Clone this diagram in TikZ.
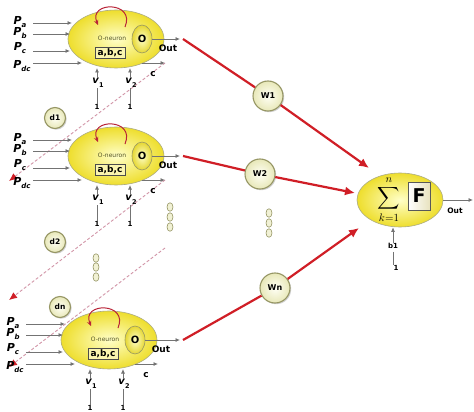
\documentclass[tikz,border=0pt]{standalone}
\usepackage[no-math]{fontspec}
\setmainfont{DejaVu Sans}
\usepackage{graphicx}
\usetikzlibrary{arrows.meta,shapes.geometric,shadows,backgrounds}
\definecolor{redl}{RGB}{208,30,38}
\definecolor{loopred}{RGB}{185,35,55}
\definecolor{pinkd}{RGB}{210,150,168}
\definecolor{grayar}{RGB}{115,115,115}
\definecolor{olive}{RGB}{150,150,100}
\definecolor{yin}{RGB}{255,255,200}
\definecolor{yout}{RGB}{238,222,45}
\definecolor{cin}{RGB}{255,255,245}
\definecolor{cout}{RGB}{232,232,185}
\definecolor{txtol}{RGB}{85,85,40}
\definecolor{boxfill}{RGB}{250,245,175}
\definecolor{fboxc}{RGB}{232,226,190}

\newcommand\PLab[1]{\textit{P}\raisebox{-3pt}{\fontsize{7}{8}\selectfont\textit{#1}}}
\newcommand\VLab[1]{\textit{v}\raisebox{-3.5pt}{\fontsize{6.5}{7}\selectfont #1}}

\tikzset{
 neuron/.style={ellipse, draw=olive!80, line width=0.6pt, inner color=yin, outer color=yout, inner sep=0pt, minimum width=96pt, minimum height=58pt},
 onode/.style={ellipse, draw=olive, line width=0.6pt, inner color=yin, outer color=yout!90!olive, inner sep=0pt, minimum width=20pt, minimum height=28pt, font=\fontsize{10}{11}\selectfont\bfseries},
 tinytxt/.style={inner sep=0pt, text=txtol, font=\fontsize{6}{7}\selectfont},
 abcbox/.style={rectangle, draw=black!70, line width=0.6pt, fill=boxfill, inner sep=0pt, minimum width=30pt, minimum height=11pt, font=\fontsize{9}{10}\selectfont\bfseries},
 plab/.style={inner sep=0pt, font=\fontsize{11}{12}\selectfont\bfseries},
 vlab/.style={inner sep=0pt, font=\fontsize{10}{11}\selectfont\bfseries},
 onelab/.style={inner sep=0pt, font=\fontsize{7}{8}\selectfont\bfseries},
 clab/.style={inner sep=0pt, font=\fontsize{9}{10}\selectfont\bfseries},
 outlab/.style={inner sep=0pt, font=\fontsize{9}{10}\selectfont\bfseries},
 gar/.style={draw=grayar, line width=0.8pt, -{Latex[length=4.5pt,width=4pt]}},
 gline/.style={draw=grayar, line width=0.7pt},
 loopar/.style={draw=loopred, line width=1pt, -{Stealth[length=5pt,width=4.5pt]}},
 redline/.style={draw=redl, line width=2.2pt},
 redar/.style={draw=redl, line width=2.2pt, -{Latex[length=10pt,width=9pt]}},
 pdash/.style={draw=pinkd, line width=0.9pt, dash pattern=on 3pt off 2pt, -{Latex[length=8pt,width=7pt,color=redl]}},
 wcirc/.style={circle, draw=olive, line width=1.1pt, inner color=cin, outer color=cout, minimum size=30pt, inner sep=0pt, font=\fontsize{8}{9}\selectfont\bfseries, drop shadow={shadow xshift=1.2pt, shadow yshift=-1.2pt, opacity=0.35}},
 dcirc/.style={wcirc, minimum size=21pt, font=\fontsize{7.5}{8.5}\selectfont\bfseries},
 dotell/.style={ellipse, draw=olive, line width=0.6pt, fill=cout!60!white, minimum width=6pt, minimum height=8.5pt, inner sep=0pt},
 fboxst/.style={rectangle, draw=black!65, line width=0.8pt, left color=white, right color=fboxc, minimum width=22pt, minimum height=28pt, inner sep=0pt, font=\fontsize{19}{20}\selectfont\bfseries},
}

\newcommand\Neuron[3]{%
\begin{scope}[shift={(#2,#3)}]
 \node[neuron] (n#1) at (116,39) {};
 \draw[loopar] (125,27) .. controls (136,1) and (88,1) .. (98,25);
 \node[onode] (o#1) at (142,39) {O};
 \node[tinytxt] (on#1) at (112,38) {O-neuron};
 \node[abcbox] (abc#1) at (110,53) {a,b,c};
 \node[plab] (pa#1) at (20,22) {\PLab{a}};
 \node[plab] (pb#1) at (20,33) {\PLab{b}};
 \node[plab] (pc#1) at (20,48) {\PLab{c}};
 \node[plab] (pd#1) at (22,66) {\PLab{dc}};
 \coordinate (pas#1) at (33,23); \coordinate (pae#1) at (72,23);
 \coordinate (pbs#1) at (33,34); \coordinate (pbe#1) at (70,34);
 \coordinate (pcs#1) at (33,51); \coordinate (pce#1) at (70,51);
 \coordinate (pds#1) at (33,63); \coordinate (pde#1) at (82,63);
 \draw[gar] (pas#1) -- (pae#1);
 \draw[gar] (pbs#1) -- (pbe#1);
 \draw[gar] (pcs#1) -- (pce#1);
 \draw[gar] (pds#1) -- (pde#1);
 \coordinate (cs#1) at (142,63); \coordinate (ce#1) at (165,63);
 \draw[gar] (cs#1) -- (ce#1);
 \node[clab] (cl#1) at (153,74) {c};
 \node[vlab] (va#1) at (98,83) {\VLab{1}};
 \node[vlab] (vb#1) at (131,83) {\VLab{2}};
 \node[onelab] (oa#1) at (97,107) {1};
 \node[onelab] (ob#1) at (130,107) {1};
 \coordinate (vat#1) at (97,68); \coordinate (vbt#1) at (130,68);
 \draw[gline] (oa#1.north) -- (oa#1.north |- va#1.south);
 \draw[gline] (ob#1.north) -- (ob#1.north |- vb#1.south);
 \draw[gar] (va#1.north -| vat#1) -- (vat#1);
 \draw[gar] (vb#1.north -| vbt#1) -- (vbt#1);
 \coordinate (oe#1) at (o#1.east -| outx);
 \draw[gar] (o#1.east) -- (oe#1);
 \node[outlab] (ol#1) at (168,48) {Out};
\end{scope}}

\begin{document}
\begin{tikzpicture}[x=1pt,y=-1pt]
\useasboundingbox (0,0) rectangle (474,412);
\coordinate (outx) at (180,0);

\Neuron{1}{0}{0}
\Neuron{2}{0}{117}
\Neuron{3}{-7}{301}

% dashed feedback lines
\coordinate (pe1) at (9,181);
\coordinate (pe2) at (9,300);
\coordinate (ps3) at (165,248);
\coordinate (pe3) at (9,367);
\begin{pgfonlayer}{background}
\fill[white] (0,0) rectangle (474,412);
\draw[pdash] (ce1) -- (pe1);
\draw[pdash] (ce2) -- (pe2);
\draw[pdash] (ps3) -- (pe3);
\end{pgfonlayer}

% delay circles
\node[dcirc] (d1) at (55,118) {d1};
\node[dcirc] (d2) at (55,242) {d2};
\node[dcirc] (dn) at (60,307) {dn};

% dots
\node[dotell] (da1) at (170,207) {};
\node[dotell] (da2) at (170,217) {};
\node[dotell] (da3) at (170,227) {};
\node[dotell] (db1) at (96,258) {};
\node[dotell] (db2) at (96,267) {};
\node[dotell] (db3) at (96,277) {};
\node[dotell] (dc1) at (269,213) {};
\node[dotell] (dc2) at (269,223) {};
\node[dotell] (dc3) at (269,233) {};

% summing neuron
\node[neuron, minimum width=86pt, minimum height=54pt] (s) at (400,200) {};
\node[inner sep=0pt] (sig) at (389,198) {\scalebox{1.55}{$\displaystyle\sum$}};
\node[inner sep=0pt, font=\fontsize{11}{12}\selectfont] (supn) at (389,180) {$n$};
\node[inner sep=0pt, font=\fontsize{11}{12}\selectfont] (subk) at (389,218) {$k{=}1$};
\node[fboxst] (F) at (419,196) {F};
\coordinate (sout) at (473,200);
\draw[gar] (s.east) -- (sout);
\node[outlab, font=\fontsize{7.5}{8.5}\selectfont\bfseries] (sol) at (455,211) {Out};
\node[onelab] (b1) at (393,246) {b1};
\node[onelab] (b1one) at (396,268) {1};
\draw[gline] (b1.south) ++(0,3) coordinate (b1l) -- (b1l |- b1one.north);
\draw[gar] (b1.north) -- (b1.north |- s.south);

% weights
\node[wcirc] (W1) at (268,96) {W1};
\node[wcirc] (W2) at (260,174) {W2};
\node[wcirc] (Wn) at (275,288) {Wn};
\coordinate (t1) at (369,168);
\coordinate (t2) at (355,193);
\coordinate (tn) at (359,228);
\draw[redline] ([xshift=3pt]oe1) -- (W1);
\draw[redar] (W1) -- (t1);
\draw[redline] ([xshift=3pt]oe2) -- (W2);
\draw[redar] (W2) -- (t2);
\draw[redline] ([xshift=3pt]oe3) -- (Wn);
\draw[redar] (Wn) -- (tn);
\end{tikzpicture}
\end{document}
